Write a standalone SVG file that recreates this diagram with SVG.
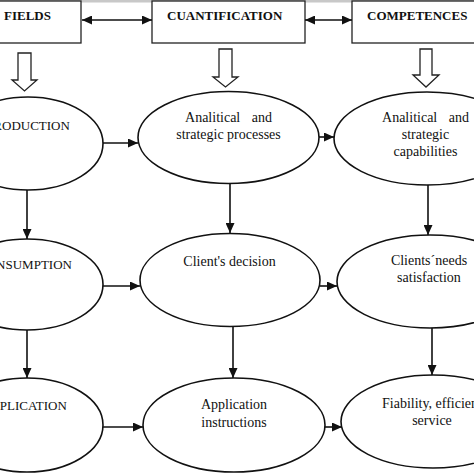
<svg xmlns="http://www.w3.org/2000/svg" width="474" height="474" viewBox="0 0 474 474">
<defs>
<style>
.box{fill:#fff;stroke:#222;stroke-width:1.3}
.ell{fill:#fff;stroke:#111;stroke-width:1.6}
.hol{fill:#fff;stroke:#222;stroke-width:1.3}
.con{stroke:#111;stroke-width:1.6;fill:none}
.title{font-family:"Liberation Serif",serif;font-weight:bold;font-size:13px;fill:#111}
.cap{font-family:"Liberation Serif",serif;font-size:13px;fill:#111}
.lbl{font-family:"Liberation Serif",serif;font-size:14px;fill:#111;text-anchor:middle}
</style>
<marker id="ah" markerUnits="userSpaceOnUse" markerWidth="11" markerHeight="9" refX="10" refY="4.5" orient="auto-start-reverse">
<path d="M0,0 L10,4.5 L0,9 z" fill="#111"/>
</marker>
</defs>
<rect x="0" y="0" width="474" height="474" fill="#fff"/>
<rect x="0" y="0" width="474" height="2.5" fill="#c8c8c8"/>

<g id="fields">
<rect class="box" x="-10" y="1" width="91" height="42"/>
<text class="title" x="4" y="20">FIELDS</text>
<polygon class="hol" points="18,53 31,53 31,80 37,80 24.5,91 12,80 18,80"/>
</g>
<g id="cuantification">
<rect class="box" x="152" y="1" width="153" height="42"/>
<text class="title" x="167" y="20">CUANTIFICATION</text>
<polygon class="hol" points="219,49 232,49 232,77 238,77 225.5,87 213,77 219,77"/>
</g>
<g id="competences">
<rect class="box" x="352" y="1" width="130" height="42"/>
<text class="title" x="367" y="20">COMPETENCES</text>
<polygon class="hol" points="420,49 432,49 432,75 439,75 426,87 413,75 420,75"/>
</g>

<g id="production">
<ellipse class="ell" cx="28" cy="143.5" rx="75" ry="46.5"/>
<text class="cap" x="28" y="130" text-anchor="middle">PRODUCTION</text>
</g>
<g id="analitical-processes">
<ellipse class="ell" cx="228.5" cy="137.5" rx="90.5" ry="46"/>
<text class="lbl" x="228.5" y="122" word-spacing="8">Analitical and</text>
<text class="lbl" x="228.5" y="139">strategic processes</text>
</g>
<g id="analitical-capabilities">
<ellipse class="ell" cx="427" cy="138.5" rx="93" ry="46.5"/>
<text class="lbl" x="425.5" y="122" word-spacing="8">Analitical and</text>
<text class="lbl" x="425.5" y="139">strategic</text>
<text class="lbl" x="425.5" y="156">capabilities</text>
</g>

<g id="consumption">
<ellipse class="ell" cx="27" cy="284.5" rx="76" ry="45.5"/>
<text class="cap" x="25" y="269" text-anchor="middle">CONSUMPTION</text>
</g>
<g id="clients-decision">
<ellipse class="ell" cx="230" cy="280" rx="90" ry="46.5"/>
<text class="lbl" x="229.5" y="266">Client's decision</text>
</g>
<g id="clients-needs">
<ellipse class="ell" cx="430" cy="281.5" rx="93" ry="46.5"/>
<text class="lbl" x="429" y="265">Clients´needs</text>
<text class="lbl" x="429" y="282">satisfaction</text>
</g>

<g id="application">
<ellipse class="ell" cx="27" cy="425" rx="76" ry="47"/>
<text class="cap" x="25" y="410" text-anchor="middle">APPLICATION</text>
</g>
<g id="application-instructions">
<ellipse class="ell" cx="234" cy="425" rx="91" ry="47"/>
<text class="lbl" x="234" y="409">Application</text>
<text class="lbl" x="234" y="427">instructions</text>
</g>
<g id="fiability">
<ellipse class="ell" cx="433" cy="421.5" rx="92" ry="46.5"/>
<text class="lbl" x="432" y="408">Fiability, efficient</text>
<text class="lbl" x="432" y="425">service</text>
</g>

<g id="connectors">
<line class="con" x1="82" y1="20" x2="152" y2="20" marker-start="url(#ah)" marker-end="url(#ah)"/>
<line class="con" x1="305" y1="20" x2="352" y2="20" marker-start="url(#ah)" marker-end="url(#ah)"/>
<line class="con" x1="103" y1="143" x2="138" y2="143" marker-end="url(#ah)"/>
<line class="con" x1="319" y1="137" x2="334" y2="137" marker-end="url(#ah)"/>
<line class="con" x1="103" y1="286" x2="140" y2="286" marker-end="url(#ah)"/>
<line class="con" x1="320" y1="286" x2="337" y2="286" marker-end="url(#ah)"/>
<line class="con" x1="103" y1="427" x2="143" y2="427" marker-end="url(#ah)"/>
<line class="con" x1="325" y1="427" x2="342" y2="427" marker-end="url(#ah)"/>
<line class="con" x1="27" y1="190" x2="27" y2="239" marker-end="url(#ah)"/>
<line class="con" x1="230" y1="183" x2="230" y2="233" marker-end="url(#ah)"/>
<line class="con" x1="428" y1="185" x2="428" y2="235" marker-end="url(#ah)"/>
<line class="con" x1="27" y1="330" x2="27" y2="378" marker-end="url(#ah)"/>
<line class="con" x1="233" y1="327" x2="233" y2="378" marker-end="url(#ah)"/>
<line class="con" x1="432" y1="328" x2="432" y2="375" marker-end="url(#ah)"/>
</g>
</svg>
